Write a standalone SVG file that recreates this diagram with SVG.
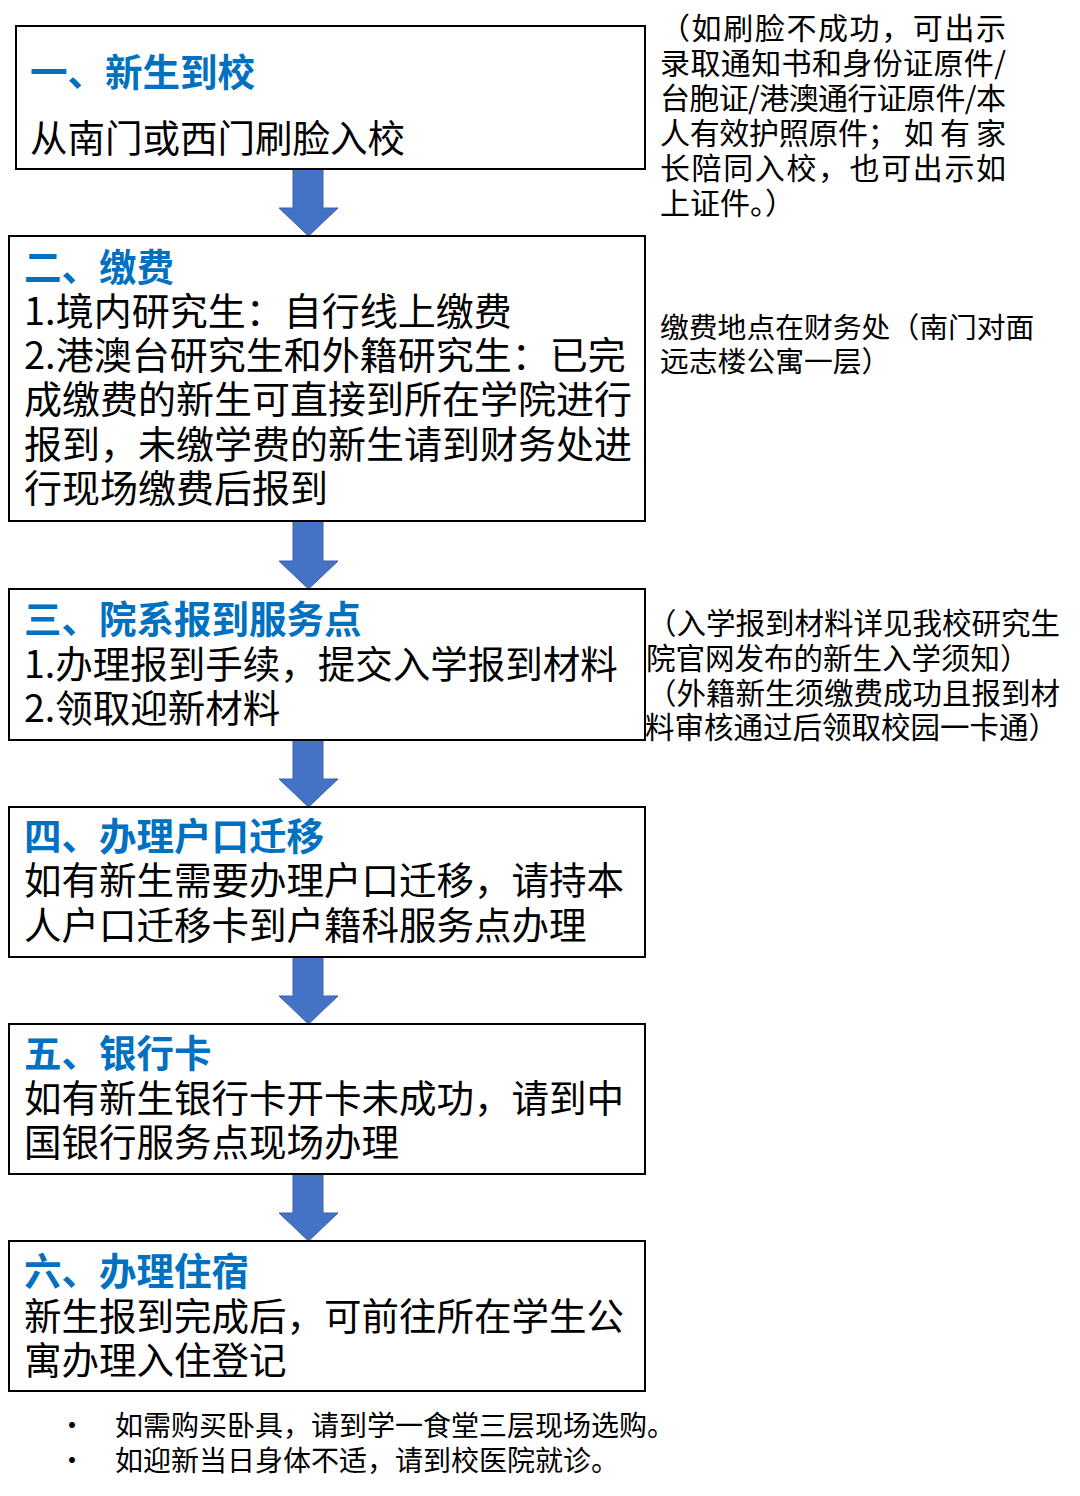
<svg xmlns="http://www.w3.org/2000/svg" width="1080" height="1496" viewBox="0 0 1080 1496">
<defs>
<style>
.box{fill:#fff;stroke:#000;stroke-width:2}
.t{font-family:"Noto Sans CJK SC","Noto Sans",sans-serif;font-weight:bold;font-size:37.5px;fill:#0070C0}
.b{font-family:"Noto Sans CJK SC","Noto Sans",sans-serif;font-size:37.5px;fill:#000}
.b2{font-family:"Noto Sans CJK SC","Noto Sans",sans-serif;font-size:38px;fill:#000}
.n{font-family:"Noto Sans CJK SC","Noto Sans",sans-serif;font-size:30px;fill:#000}
.n2{font-family:"Noto Sans CJK SC","Noto Sans",sans-serif;font-size:29.5px;fill:#000}
.n3{font-family:"Noto Sans CJK SC","Noto Sans",sans-serif;font-size:28.8px;fill:#000}
.bl{font-family:"Noto Sans CJK SC","Noto Sans",sans-serif;font-size:28px;fill:#000}
.arr{fill:#4472C4;stroke:#3A62AD;stroke-width:1}
</style>
</defs>
<rect width="1080" height="1496" fill="#fff"/>
<g id="connectors">
<path class="arr" d="M293,169 H323 V208 H338 L308.5,236 L279,208 H293 Z"/>
<path class="arr" d="M293,521 H323 V561 H338 L308.5,589 L279,561 H293 Z"/>
<path class="arr" d="M293,740 H323 V779 H338 L308.5,807 L279,779 H293 Z"/>
<path class="arr" d="M293,957 H323 V996 H338 L308.5,1024 L279,996 H293 Z"/>
<path class="arr" d="M293,1174 H323 V1213 H338 L308.5,1241 L279,1213 H293 Z"/>
</g>
<g id="node1">
<rect class="box" x="16" y="26" width="629" height="143"/>
<text class="t" x="30" y="86">一、新生到校</text>
<text class="b" x="30" y="152">从南门或西门刷脸入校</text>
</g>
<g id="note1">
<text class="n" x="660" y="39" textLength="346" lengthAdjust="spacing">（如刷脸不成功，可出示</text>
<text class="n" x="660" y="74" textLength="346" lengthAdjust="spacing">录取通知书和身份证原件/</text>
<text class="n" x="660" y="109" textLength="346" lengthAdjust="spacing">台胞证/港澳通行证原件/本</text>
<text class="n" x="660" y="144" textLength="346" lengthAdjust="spacing">人有效护照原件； 如 有 家</text>
<text class="n" x="660" y="179" textLength="346" lengthAdjust="spacing">长陪同入校，也可出示如</text>
<text class="n" x="660" y="214">上证件。）</text>
</g>
<g id="node2">
<rect class="box" x="9" y="236" width="636" height="285"/>
<text class="t" x="24" y="281">二、缴费</text>
<text class="b2" x="24" y="325">1.境内研究生：自行线上缴费</text>
<text class="b2" x="24" y="369">2.港澳台研究生和外籍研究生：已完</text>
<text class="b2" x="24" y="413">成缴费的新生可直接到所在学院进行</text>
<text class="b2" x="24" y="458">报到，未缴学费的新生请到财务处进</text>
<text class="b2" x="24" y="502">行现场缴费后报到</text>
</g>
<g id="note2">
<text class="n3" x="660" y="338">缴费地点在财务处（南门对面</text>
<text class="n3" x="660" y="372">远志楼公寓一层）</text>
</g>
<g id="node3">
<rect class="box" x="9" y="589" width="636" height="151"/>
<text class="t" x="24" y="633">三、院系报到服务点</text>
<text class="b" x="24" y="678">1.办理报到手续，提交入学报到材料</text>
<text class="b" x="24" y="722">2.领取迎新材料</text>
</g>
<g id="note3">
<text class="n2" x="647" y="634">（入学报到材料详见我校研究生</text>
<text class="n2" x="646" y="669">院官网发布的新生入学须知）</text>
<text class="n2" x="647" y="704">（外籍新生须缴费成功且报到材</text>
<text class="n2" x="645" y="738">料审核通过后领取校园一卡通）</text>
</g>
<g id="node4">
<rect class="box" x="9" y="807" width="636" height="150"/>
<text class="t" x="24" y="850">四、办理户口迁移</text>
<text class="b" x="24" y="894">如有新生需要办理户口迁移，请持本</text>
<text class="b" x="24" y="939">人户口迁移卡到户籍科服务点办理</text>
</g>
<g id="node5">
<rect class="box" x="9" y="1024" width="636" height="150"/>
<text class="t" x="24" y="1067">五、银行卡</text>
<text class="b" x="24" y="1112">如有新生银行卡开卡未成功，请到中</text>
<text class="b" x="24" y="1156">国银行服务点现场办理</text>
</g>
<g id="node6">
<rect class="box" x="9" y="1241" width="636" height="150"/>
<text class="t" x="24" y="1285">六、办理住宿</text>
<text class="b" x="24" y="1330">新生报到完成后，可前往所在学生公</text>
<text class="b" x="24" y="1374">寓办理入住登记</text>
</g>
<g id="bullets">
<text class="bl" x="58" y="1436">•</text>
<text class="bl" x="115" y="1436">如需购买卧具，请到学一食堂三层现场选购。</text>
<text class="bl" x="58" y="1471">•</text>
<text class="bl" x="115" y="1471">如迎新当日身体不适，请到校医院就诊。</text>
</g>
</svg>
